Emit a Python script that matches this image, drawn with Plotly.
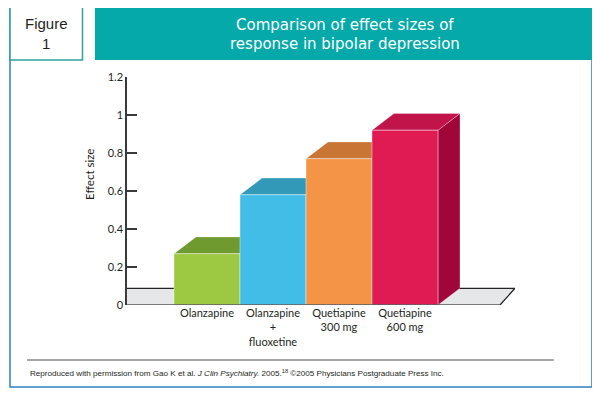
import plotly.graph_objects as go

# ---- data ----
CATEGORIES = ["Olanzapine", "Olanzapine<br>+<br>fluoxetine", "Quetiapine<br>300 mg", "Quetiapine<br>600 mg"]
VALUES = [0.27, 0.58, 0.77, 0.92]
Y_TICKS = [0, 0.2, 0.4, 0.6, 0.8, 1, 1.2]
Y_TICK_TEXT = ["0", "0.2", "0.4", "0.6", "0.8", "1", "1.2"]
TITLE_LINES = ["Comparison of effect sizes of", "response in bipolar depression"]
FIGURE_LABEL = "Figure<br>1"
Y_TITLE = "Effect size"
FOOTER = ("Reproduced with permission from Gao K et al. <i>J Clin Psychiatry.</i> 2005.<sup>18</sup> "
          "©2005 Physicians Postgraduate Press Inc.")

# ---- style ----
FRONT = ["#9dc942", "#41bde8", "#f49446", "#e01b53"]
TOP = ["#6f9a30", "#3299b9", "#c97535", "#c0144a"]
SIDE = ["#5d8426", "#2a80a0", "#a9602b", "#a0063a"]
DX = 1 / 3      # depth offset in category units
DY = 0.088      # depth offset in value units
XMIN, XMAX = -1.212, 4.667
FLOOR_FRONT_END = 4.44

OFF = 8  # page body margin compensation
W_PX, H_PX = 600, 399
L, R, T, B = 127 - OFF, 515 - OFF, 77 - OFF, 305 - OFF


def px(x):
    return (x - OFF - L) / (R - L)


def py(y):
    return (B - (y - OFF)) / (B - T)


fig = go.Figure()

for i, v in enumerate(VALUES):
    # side face
    fig.add_trace(go.Scatter(
        x=[i + 0.5, i + 0.5 + DX, i + 0.5 + DX, i + 0.5, i + 0.5],
        y=[0, DY, v + DY, v, 0], fill="toself", fillcolor=SIDE[i],
        mode="lines", line=dict(color="rgba(255,255,255,0.35)", width=0.8),
        hoverinfo="skip", showlegend=False))
    # top face
    fig.add_trace(go.Scatter(
        x=[i - 0.5, i + 0.5, i + 0.5 + DX, i - 0.5 + DX, i - 0.5],
        y=[v, v, v + DY, v + DY, v], fill="toself", fillcolor=TOP[i],
        mode="lines", line=dict(color="rgba(255,255,255,0.35)", width=0.8),
        hoverinfo="skip", showlegend=False))
    # front face
    fig.add_trace(go.Scatter(
        x=[i - 0.5, i + 0.5, i + 0.5, i - 0.5, i - 0.5],
        y=[0, 0, v, v, 0], fill="toself", fillcolor=FRONT[i],
        mode="lines", line=dict(color="rgba(255,255,255,0.55)", width=0.8),
        hoverinfo="skip", showlegend=False))

shapes = []
# outer frame
shapes.append(dict(type="rect", xref="paper", yref="paper", x0=px(10), x1=px(592), y0=py(6), y1=py(387),
                   line=dict(color="#2f7fc2", width=1.5), fillcolor="rgba(0,0,0,0)", layer="below"))
# Figure box
shapes.append(dict(type="rect", xref="paper", yref="paper", x0=px(10), x1=px(82.5), y0=py(6.5), y1=py(60),
                   line=dict(color="#2fa39c", width=1.5), fillcolor="white", layer="below"))
# Title banner
shapes.append(dict(type="rect", xref="paper", yref="paper", x0=px(95), x1=px(592), y0=py(6.5), y1=py(60),
                   line=dict(width=0), fillcolor="#05a9a9", layer="below"))
# separator
shapes.append(dict(type="line", xref="paper", yref="paper", x0=px(27), x1=px(554), y0=py(360), y1=py(360),
                   line=dict(color="#8a8a8a", width=1.5), layer="below"))
# floor
shapes.append(dict(type="path", xref="x", yref="y",
                   path=f"M {XMIN},0 L {FLOOR_FRONT_END},0 L {XMAX},{DY} L {XMIN},{DY} Z",
                   fillcolor="#e6e7e9", line=dict(width=0), layer="below"))
shapes.append(dict(type="path", xref="x", yref="y",
                   path=f"M {XMIN},{DY} L {XMAX},{DY} L {FLOOR_FRONT_END},0",
                   line=dict(color="#222222", width=1.3), layer="below"))
shapes.append(dict(type="line", xref="x", yref="y", x0=XMIN, x1=FLOOR_FRONT_END, y0=0, y1=0,
                   line=dict(color="#555555", width=1.5), layer="above"))

annotations = [
    dict(text=FIGURE_LABEL, xref="paper", yref="paper", x=px(46.5), y=py(34), showarrow=False,
         font=dict(family="Liberation Sans", size=15, color="#231f20"), xanchor="center", yanchor="middle"),
    dict(text=TITLE_LINES[0], xref="paper", yref="paper", x=px(345), y=py(25), showarrow=False,
         font=dict(family="DejaVu Sans", size=15, color="white"), xanchor="center", yanchor="middle"),
    dict(text=TITLE_LINES[1], xref="paper", yref="paper", x=px(345), y=py(44.5), showarrow=False,
         font=dict(family="DejaVu Sans", size=15, color="white"), xanchor="center", yanchor="middle"),
    dict(text=Y_TITLE, xref="paper", yref="paper", x=px(89), y=py(175), showarrow=False, textangle=-90,
         font=dict(family="Lato", size=11.5, color="#231f20"), xanchor="center", yanchor="middle"),
    dict(text=FOOTER, xref="paper", yref="paper", x=px(28), y=py(373), showarrow=False,
         font=dict(family="Liberation Sans", size=8.1, color="#231f20"),
         xanchor="left", yanchor="middle"),
]

fig.update_layout(
    width=W_PX, height=H_PX,
    margin=dict(l=L, r=W_PX - R, t=T, b=H_PX - B, pad=0),
    paper_bgcolor="white", plot_bgcolor="rgba(0,0,0,0)",
    shapes=shapes, annotations=annotations, showlegend=False,
    xaxis=dict(range=[XMIN, XMAX], tickvals=list(range(len(CATEGORIES))), ticktext=CATEGORIES,
               showgrid=False, zeroline=False, showline=False, ticks="", automargin=False,
               tickfont=dict(family="Lato", size=11, color="#231f20"), fixedrange=True),
    yaxis=dict(range=[0, 1.2], tickvals=Y_TICKS, ticktext=Y_TICK_TEXT, showgrid=False, zeroline=False,
               showline=True, linecolor="#3a3a3a", linewidth=1.5, ticks="inside", ticklen=10,
               tickcolor="#3a3a3a", tickwidth=1.5, automargin=False,
               tickfont=dict(family="Lato", size=11, color="#231f20"), fixedrange=True),
)

fig.write_html("out.html")
